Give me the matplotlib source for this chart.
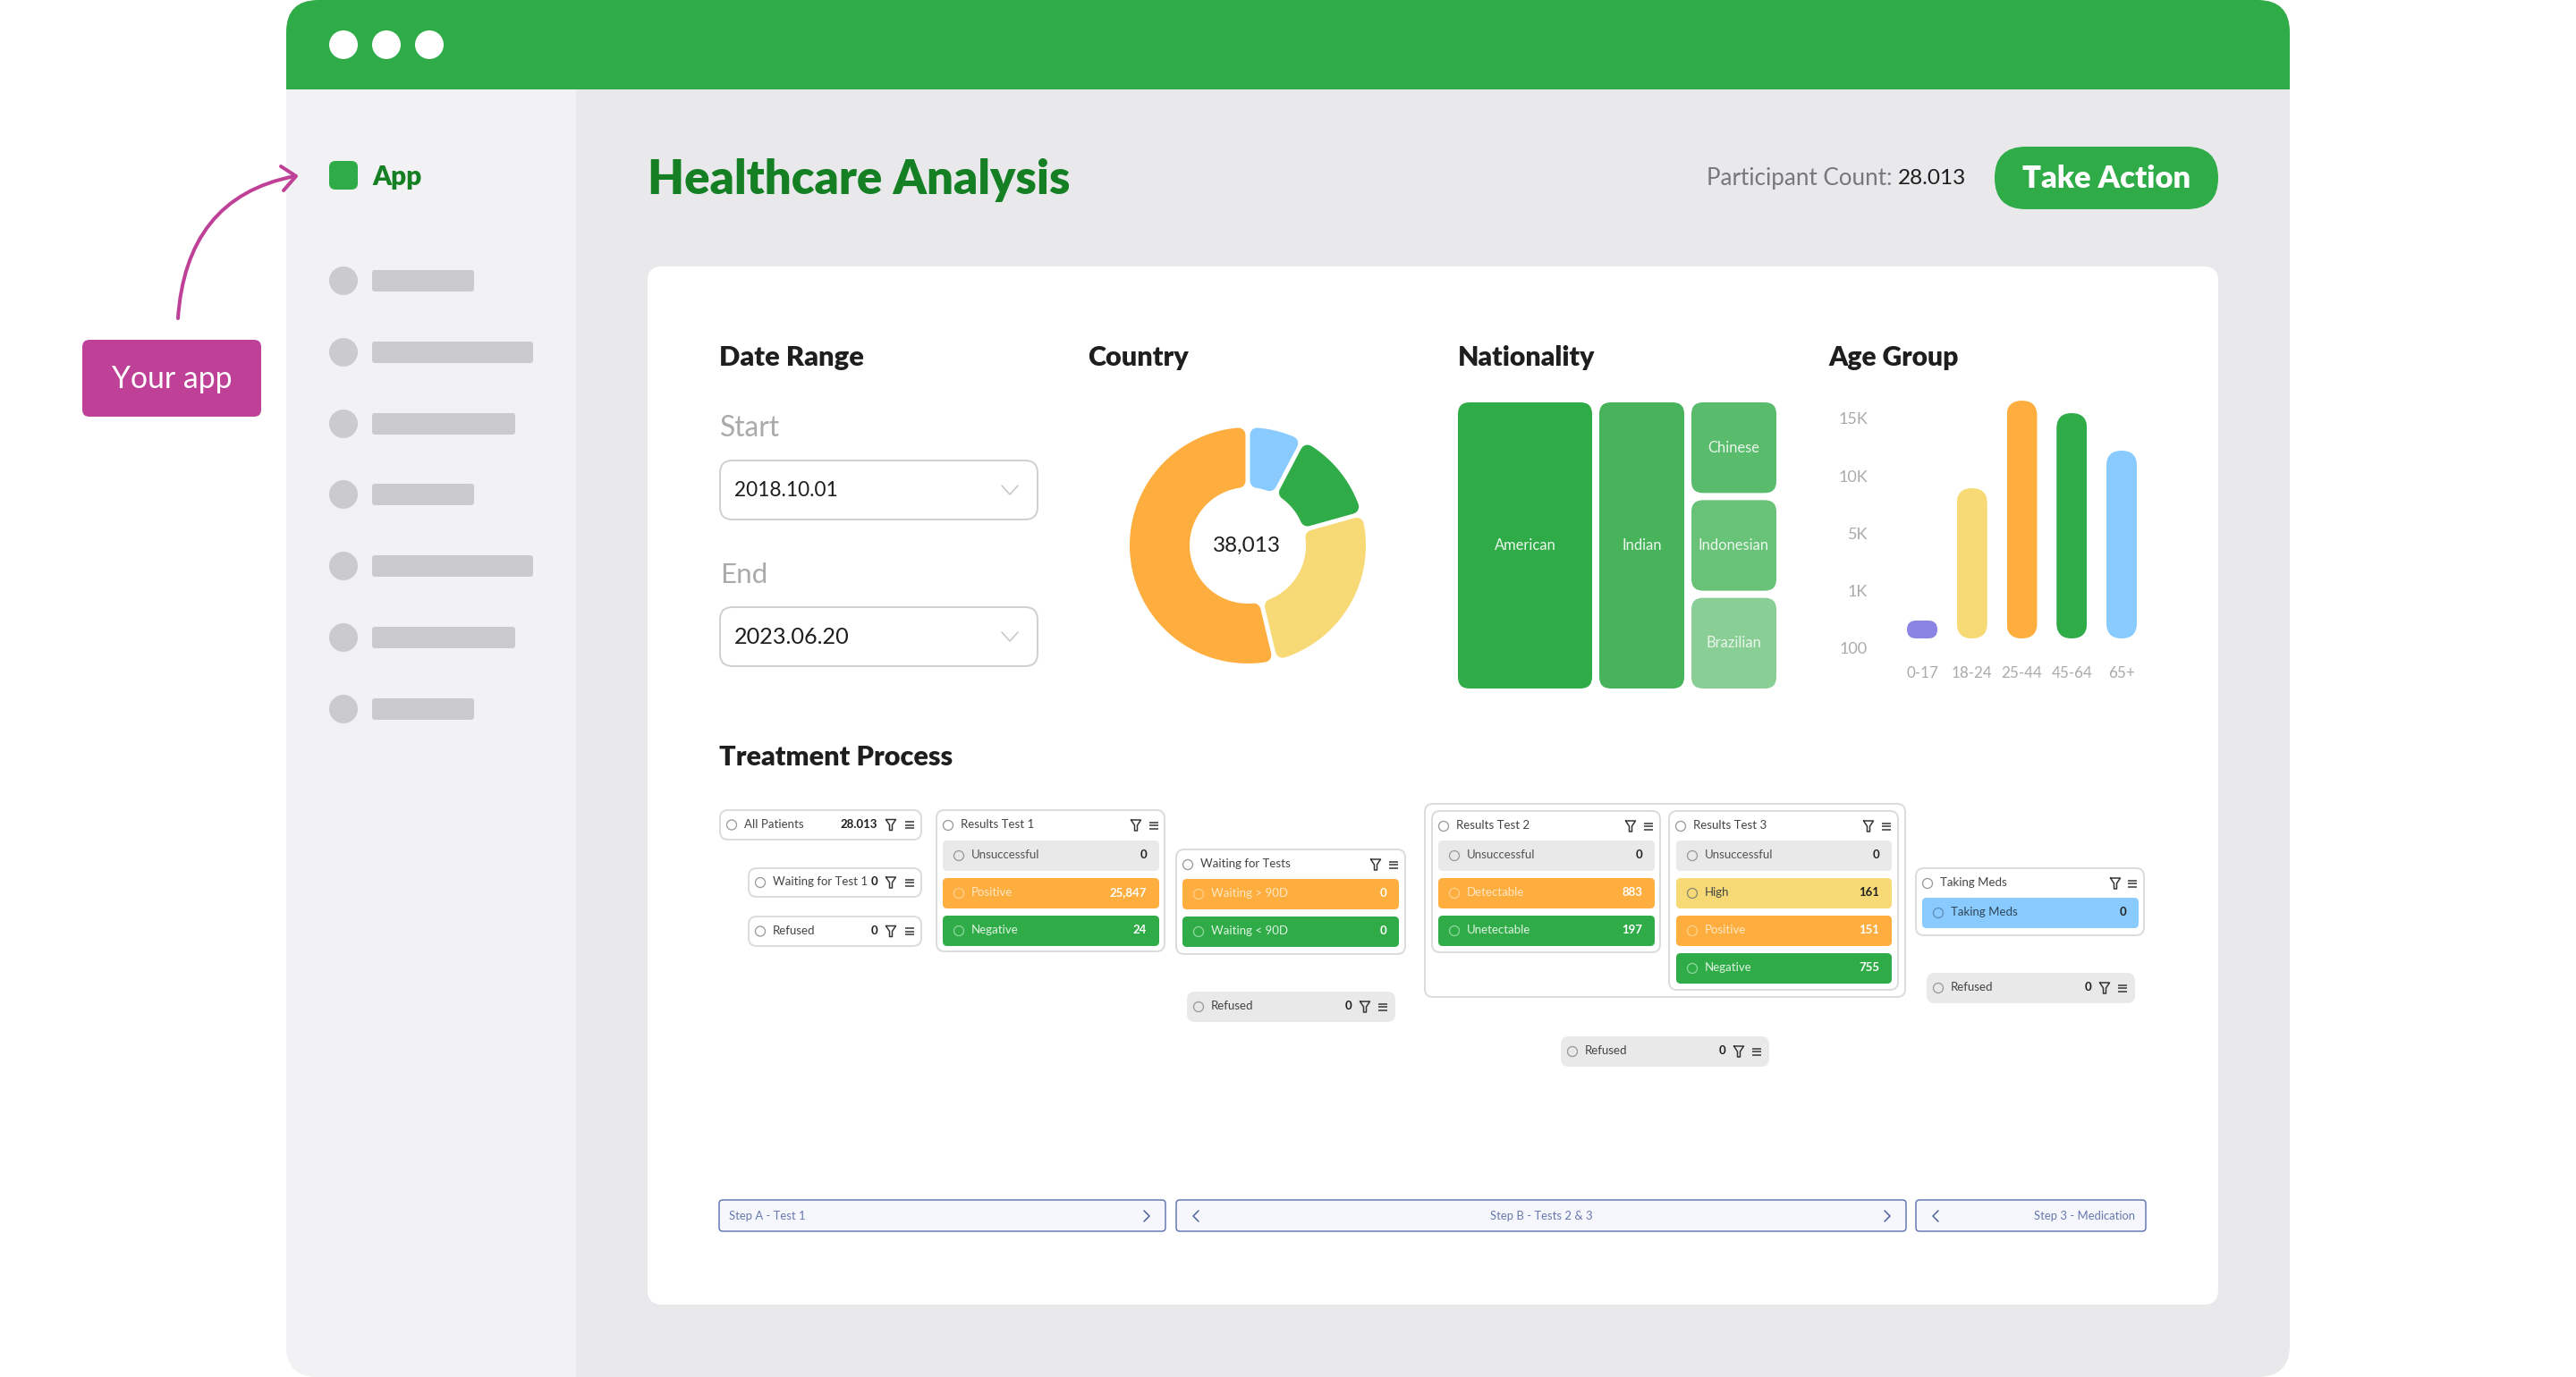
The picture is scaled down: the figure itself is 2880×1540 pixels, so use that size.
import numpy as np
import matplotlib
matplotlib.use("Agg")
import matplotlib.pyplot as plt
from matplotlib.patches import FancyBboxPatch, Rectangle, Circle, Ellipse, PathPatch
from matplotlib.path import Path
from matplotlib.textpath import TextPath
from matplotlib.font_manager import FontProperties

# ---------- data ----------
app_title = "Healthcare Analysis"
participant_label = "Participant Count:"
participant_count = "28.013"
action_label = "Take Action"
date_start = "2018.10.01"
date_end = "2023.06.20"

country_values = [20423, 9730, 4930, 2930]
country_total = "38,013"

nationality_names = ["American", "Indian", "Chinese", "Indonesian", "Brazilian"]
nationality_values = [16500, 10757, 3585, 3585, 3586]

age_groups = ["0-17", "18-24", "25-44", "45-64", "65+"]
age_values = [534, 8930, 16550, 15465, 12200]
age_tick_values = [100, 1000, 5000, 10000, 15000]
age_tick_labels = ["100", "1K", "5K", "10K", "15K"]

test1_labels = ["Unsuccessful", "Positive", "Negative"]
test1_values = ["0", "25,847", "24"]
wait_labels = ["Waiting > 90D", "Waiting < 90D"]
wait_values = ["0", "0"]
test2_labels = ["Unsuccessful", "Detectable", "Unetectable"]
test2_values = ["0", "883", "197"]
test3_labels = ["Unsuccessful", "High", "Positive", "Negative"]
test3_values = ["0", "161", "151", "755"]
meds_labels = ["Taking Meds"]
meds_values = ["0"]
step_labels = ["Step A - Test 1", "Step B - Tests 2 & 3", "Step 3 - Medication"]

# ---------- style ----------
W, H, DPI = 2880, 1540, 100
GREEN, DGREEN = "#2fac47", "#147f23"
ORANGE, YELLOW, BLUE, PURPLE = "#feae3e", "#f7da76", "#89caff", "#8c84e4"
INK, GREY = "#1e1e1e", "#aaaaac"
FONT = "Lato"
LABEL_PX = 13.2
plt.rcParams["font.family"] = [FONT, "DejaVu Sans"]

fig = plt.figure(figsize=(W / DPI, H / DPI), dpi=DPI, facecolor="white")
ui = fig.add_axes([0, 0, 1, 1])
ui.set_xlim(0, W)
ui.set_ylim(H, 0)
ui.axis("off")


def lw(p):
    return p * 72 / DPI


def sub_axes(x0, y0, x1, y1):
    a = fig.add_axes([x0 / W, 1 - y1 / H, (x1 - x0) / W, (y1 - y0) / H])
    a.patch.set_alpha(0)
    return a


def box(x0, y0, x1, y1, r=8, fc="white", ec="none", lwp=0, ax=None, z=2):
    p = FancyBboxPatch((x0, y0), x1 - x0, y1 - y0,
                       boxstyle=f"round,pad=0,rounding_size={r}",
                       fc=fc, ec=ec, lw=lw(lwp), zorder=z)
    (ax or ui).add_patch(p)
    return p


def T(x, y, s, px=16, color=INK, ha="left", weight="normal", width=None, ax=None, z=6):
    fp = FontProperties(family=FONT, weight=weight)
    if width is not None:
        w100 = TextPath((0, 0), s, size=100, prop=fp).get_extents().width
        size = width / w100 * 100 * 72 / DPI
    else:
        size = px * 72 / DPI
    return (ax or ui).text(x, y - 1.6, s, fontsize=size, color=color, ha=ha, va="center_baseline",
                           fontweight=weight, family=FONT, zorder=z)


def line(xs, ys, c, w=2, z=6, ax=None, cap="round"):
    (ax or ui).plot(xs, ys, color=c, lw=lw(w), solid_capstyle=cap, solid_joinstyle="round", zorder=z)


# ---------- window ----------
win = box(320, 0, 2560, 1540, r=36, fc="#e9e9ec", z=1)
side = Rectangle((320, 0), 324, 1540, fc="#f2f2f5", ec="none", zorder=1.1)
head = Rectangle((320, 0), 2240, 100, fc=GREEN, ec="none", zorder=1.2)
ui.add_patch(side)
ui.add_patch(head)
side.set_clip_path(win)
head.set_clip_path(win)
for cx in (384, 432, 480):
    ui.add_patch(Circle((cx, 50), 16, fc="white", ec="none", zorder=3))

# ---------- sidebar ----------
box(368, 180, 400, 212, r=7, fc=GREEN)
T(416, 197, "App", weight=800, color=DGREEN, width=55)
for cy, x1 in zip((314, 394, 474, 553, 633, 713, 793), (530, 596, 576, 530, 596, 576, 530)):
    ui.add_patch(Circle((384, cy), 16, fc="#cbcbce", ec="none", zorder=3))
    box(416, cy - 12, x1, cy + 12, r=3, fc="#cbcbce")

# ---------- callout ----------
PINK = "#bf4097"
box(92, 380, 292, 466, r=8, fc=PINK)
T(192, 423, "Your app", color="white", ha="center", width=133)
arc = Path([(199, 356), (205, 270), (245, 213), (330, 197)],
           [Path.MOVETO, Path.CURVE4, Path.CURVE4, Path.CURVE4])
ui.add_patch(PathPatch(arc, fc="none", ec=PINK, lw=lw(4), capstyle="round", zorder=4))
line([314, 331, 317], [186, 197, 213], PINK, 4, z=4)

# ---------- header row ----------
T(724, 199, app_title, weight=800, color=DGREEN, width=468)
T(1908, 199, participant_label, color="#78787a", width=203)
T(2122, 199, participant_count, color=INK, width=74)
box(2230, 164, 2480, 234, r=35, fc=GREEN)
T(2355, 199, action_label, color="white", ha="center", weight=800, width=186)

# ---------- card ----------
box(724, 298, 2480, 1459, r=16, fc="white")
for x, s, wd in ((804, "Date Range", 159), (1216, "Country", 112), (1630, "Nationality", 151), (2044, "Age Group", 145)):
    T(x, 399, s, weight=800, width=wd)
T(804, 846, "Treatment Process", weight=800, width=260)

# ---------- date pickers ----------
for lab, val, ly, y0, lw_t, vw in (("Start", date_start, 478, 515, 66, 113), ("End", date_end, 642, 679, 48, 127)):
    T(805, ly, lab, color=GREY, width=lw_t)
    box(805, y0, 1160, y0 + 66, r=14, fc="white", ec="#d0d0d0", lwp=2)
    T(821, y0 + 33, val, width=vw)
    line([1120, 1129, 1138], [y0 + 28, y0 + 38, y0 + 28], "#c8c8c8", 1.6)

# ---------- donut ----------
cx, cy, half = 1395, 610, 150
ax_d = sub_axes(cx - half, cy - half, cx + half, cy + half)
R, Ri, rc, gap = 132, 65, 8, 5
wedges, _ = ax_d.pie(country_values, colors=[ORANGE, YELLOW, GREEN, BLUE], startangle=90, radius=R,
                     counterclock=True)
ax_d.set_xlim(-half, half)
ax_d.set_ylim(-half, half)
ax_d.set_aspect("equal")
for w in wedges:
    e = gap / 2 + rc
    ro, ri = R - rc, Ri + rc
    t1, t2 = np.radians(w.theta1), np.radians(w.theta2)
    o1, o2 = t1 + np.arcsin(e / ro), t2 - np.arcsin(e / ro)
    i1, i2 = t1 + np.arcsin(e / ri), t2 - np.arcsin(e / ri)
    ao = np.linspace(o1, o2, 80)
    ai = np.linspace(i2, i1, 80)
    xy = np.r_[np.c_[ro * np.cos(ao), ro * np.sin(ao)], np.c_[ri * np.cos(ai), ri * np.sin(ai)], [[ro * np.cos(o1), ro * np.sin(o1)]]]
    w._path = Path(xy, closed=True)
    w.set_edgecolor(w.get_facecolor())
    w.set_linewidth(lw(2 * rc))
    w.set_joinstyle("round")
T(1394, 610, country_total, ha="center", width=74)

# ---------- treemap ----------
ax_t = sub_axes(1630, 450, 1986, 770)
ax_t.set_xlim(1630, 1986)
ax_t.set_ylim(770, 450)
ax_t.axis("off")
tree_colors = [GREEN, "#47b45b", "#59bc6c", "#68c379", "#88ce95"]
total = sum(nationality_values)
TW, tgap = 356 + 8, 8
xa = 1630
cols = [[0], [1], [2, 3, 4]]
for col in cols:
    cs = sum(nationality_values[i] for i in col)
    cw = cs / total * TW
    ya = 450
    ch_total = 320 + tgap
    for i in col:
        ch = nationality_values[i] / cs * ch_total
        box(xa, ya, xa + cw - tgap, ya + ch - tgap, r=13, fc=tree_colors[i], ax=ax_t)
        T(xa + (cw - tgap) / 2, ya + (ch - tgap) / 2, nationality_names[i], px=16.5, color="#eaf6ec", ha="center", ax=ax_t)
        ya += ch
    xa += cw

# ---------- age bars ----------
knots_v = np.array([-5000, 0, 100, 1000, 5000, 10000, 15000, 20000, 40000], float)
knots_p = np.array([-2, -0.5, 0, 1, 2, 3, 4, 5, 9], float)


def fwd(v):
    return np.interp(v, knots_v, knots_p)


def inv(p):
    return np.interp(p, knots_p, knots_v)


step_x, step_y = 55.75, 64.25
ax_b = sub_axes(2098, 430, 2410, 725)
ax_b.set_yscale("function", functions=(fwd, inv))
ax_b.set_ylim(100, inv((725 - 430) / step_y))
ax_b.set_xlim((2098 - 2149) / step_x, (2410 - 2149) / step_x)
base = inv((725 - 714) / step_y)
bars = ax_b.bar(range(len(age_groups)), np.array(age_values) - base, bottom=base, width=34 / step_x,
                color=[PURPLE, YELLOW, ORANGE, GREEN, BLUE], linewidth=0)
fig.canvas.draw()
for b in bars:
    e = b.get_window_extent()
    clip = FancyBboxPatch((e.x0, e.y0), e.width, e.height,
                          boxstyle=f"round,pad=0,rounding_size={min(e.width, e.height) / 2}",
                          transform=None)
    b.set_clip_path(clip)
for s in ax_b.spines.values():
    s.set_visible(False)
ax_b.set_yticks(age_tick_values, age_tick_labels)
ax_b.minorticks_off()
ax_b.set_xticks(range(len(age_groups)), age_groups)
ax_b.tick_params(axis="y", length=0, pad=lw(10), labelsize=lw(18), labelcolor=GREY)
ax_b.tick_params(axis="x", length=0, pad=lw(20), labelsize=lw(17), labelcolor=GREY)


# ---------- treatment process ----------
def funnel(x, y, c="#333333"):
    line([x - 5.5, x + 5.5, x + 1.5, x + 1.5, x - 1.5, x - 1.5, x - 5.5],
         [y - 6, y - 6, y, y + 6, y + 6, y, y - 6], c, 1.5)


def burger(x, y, c="#333333"):
    for d in (-3.5, 0, 3.5):
        line([x - 5, x + 5], [y + d, y + d], c, 1.5, cap="butt")


def ring(x, y, c="#9a9a9a"):
    ui.add_patch(Ellipse((x, y), 11, 11, fc="none", ec=c, lw=lw(1.3), zorder=6))


def pill(x0, x1, y0, y1, label, value, fun, ham, filled=False):
    """Single-line filter row with icons."""
    ym = (y0 + y1) / 2
    if filled:
        box(x0, y0, x1, y1, r=9, fc="#e9e9e9", z=3)
    else:
        box(x0, y0, x1, y1, r=9, fc="white", ec="#dcdcdc", lwp=2, z=3)
    ring(x0 + 13, ym)
    T(x0 + 27, ym, label, px=LABEL_PX, color="#444444")
    T(fun - 15, ym, value, px=LABEL_PX, ha="right", weight="bold")
    funnel(fun, ym)
    burger(ham, ym)


FILLS = {"Unsuccessful": ("#e9e9e9", "#555555", "#222222", "#9a9a9a"),
         "Positive": (ORANGE, "#ffe7c4", "#ffffff", "#ffcf8d"),
         "Detectable": (ORANGE, "#ffe7c4", "#ffffff", "#ffcf8d"),
         "Waiting > 90D": (ORANGE, "#ffe7c4", "#ffffff", "#ffcf8d"),
         "Negative": (GREEN, "#dff3e3", "#ffffff", "#8bd69a"),
         "Unetectable": (GREEN, "#dff3e3", "#ffffff", "#8bd69a"),
         "Waiting < 90D": (GREEN, "#dff3e3", "#ffffff", "#8bd69a"),
         "High": (YELLOW, "#444444", "#222222", "#8a8a70"),
         "Taking Meds": (BLUE, "#30465a", "#222222", "#5f8fb8")}


def panel(x0, x1, y0, y1, title, labels, values, ybase, rx0, rx1, fun, ham):
    box(x0, y0, x1, y1, r=9, fc="white", ec="#dcdcdc", lwp=2, z=3)
    hy = y0 + 17
    ring(x0 + 13, hy)
    T(x0 + 27, hy, title, px=LABEL_PX, color="#444444")
    funnel(fun, hy)
    burger(ham, hy)
    for i, (lab, val) in enumerate(zip(labels, values)):
        ya = ybase + i * 42
        fc, tc, vc, rc_ = FILLS[lab]
        box(rx0, ya, rx1, ya + 34, r=5, fc=fc, z=4)
        ring(rx0 + 18, ya + 17, rc_)
        T(rx0 + 32, ya + 17, lab, px=LABEL_PX, color=tc)
        T(rx1 - 14, ya + 17, val, px=LABEL_PX, color=vc, ha="right", weight="bold")


pill(805, 1030, 906, 939, "All Patients", participant_count, 996, 1017)
pill(837, 1030, 971, 1003, "Waiting for Test 1", "0", 996, 1017)
pill(837, 1030, 1025, 1058, "Refused", "0", 996, 1017)
panel(1047, 1302, 906, 1064, "Results Test 1", test1_labels, test1_values, 940, 1054, 1296, 1270, 1290)
panel(1315, 1571, 950, 1067, "Waiting for Tests", wait_labels, wait_values, 983, 1322, 1564, 1538, 1558)
pill(1327, 1560, 1109, 1143, "Refused", "0", 1526, 1546, filled=True)
box(1593, 899, 2130, 1115, r=9, fc="white", ec="#dcdcdc", lwp=2, z=2.5)
panel(1601, 1856, 907, 1065, "Results Test 2", test2_labels, test2_values, 940, 1608, 1850, 1823, 1843)
panel(1866, 2122, 907, 1107, "Results Test 3", test3_labels, test3_values, 940, 1874, 2115, 2089, 2109)
pill(1745, 1978, 1159, 1193, "Refused", "0", 1944, 1964, filled=True)
panel(2142, 2397, 971, 1046, "Taking Meds", meds_labels, meds_values, 1004, 2149, 2391, 2365, 2384)
pill(2154, 2387, 1088, 1122, "Refused", "0", 2353, 2373, filled=True)

# ---------- step bar ----------
NAVY, STEP_TX = "#5a70ad", "#6678ad"
for x0, x1 in ((804, 1303), (1315, 2131), (2142, 2399)):
    box(x0, 1342, x1, 1377, r=4, fc="#f5f7fc", ec=NAVY, lwp=1.4)
T(815, 1361, step_labels[0], px=13, color=STEP_TX)
T(1723, 1361, step_labels[1], px=13, color=STEP_TX, ha="center")
T(2387, 1361, step_labels[2], px=13, color=STEP_TX, ha="right")
for x, d in ((1282, 1), (2110, 1), (1337, -1), (2164, -1)):
    line([x - 3 * d, x + 3 * d, x - 3 * d], [1354, 1360, 1366], "#4a5f9a", 1.5)

fig.savefig("out.png", dpi=DPI)
